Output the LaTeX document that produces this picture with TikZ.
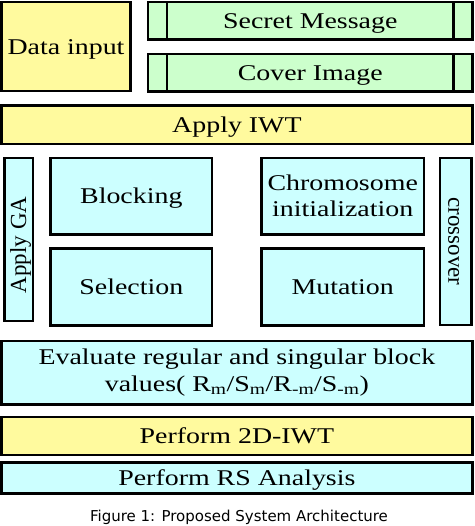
\documentclass[tikz,border=0pt]{standalone}
\usepackage{fontspec}
\setmainfont{Liberation Serif}[FakeStretch=1.24]
\newfontfamily\rotfont{Liberation Serif}
\newfontfamily\capfont{DejaVu Sans}
\definecolor{boxyellow}{HTML}{FFFA9E}
\definecolor{boxgreen}{HTML}{CCFFCC}
\definecolor{boxcyan}{HTML}{CCFFFF}
\begin{document}
\begin{tikzpicture}[x=1pt,y=-1pt,
  box/.style={draw=black, line width=2.5pt, inner sep=0pt, outer sep=0pt,
    font=\fontsize{22.5}{26}\selectfont},
  one/.style={text height=14.8pt, text depth=0pt},
  multi/.style={align=center},
  rot/.style={font=\rotfont\fontsize{23}{26}\selectfont},
  sepline/.style={line width=2.5pt}]
\useasboundingbox (0,0) rectangle (474,526);
% top block
\node[box,one,fill=boxyellow,minimum width=129pt,minimum height=89pt] (datain) at (66,46.7) {Data input};
\node[box,one,fill=boxgreen,minimum width=324.5pt,minimum height=37.5pt] (secret) at (310.25,20.75) {Secret Message};
\node[box,one,fill=boxgreen,minimum width=324.5pt,minimum height=37.3pt] (cover) at (310.25,72.7) {Cover Image};
\draw[sepline] ([xshift=19pt]secret.north west) -- ([xshift=19pt]secret.south west);
\draw[sepline] ([xshift=-19pt]secret.north east) -- ([xshift=-19pt]secret.south east);
\draw[sepline] ([xshift=19pt]cover.north west) -- ([xshift=19pt]cover.south west);
\draw[sepline] ([xshift=-19pt]cover.north east) -- ([xshift=-19pt]cover.south east);
\node[box,one,fill=boxyellow,minimum width=471.2pt,minimum height=38.3pt] (iwt) at (236.9,124.9) {Apply IWT};
% GA block
\node[box,one,rot,fill=boxcyan,rotate=90,minimum width=163pt,minimum height=28.7pt] (applyga) at (18.7,239.5) {\hspace*{-11pt}Apply GA};
\node[box,one,fill=boxcyan,minimum width=161.4pt,minimum height=76.7pt] (blocking) at (131.3,196.3) {Blocking};
\node[box,one,fill=boxcyan,minimum width=161.4pt,minimum height=76.6pt] (selection) at (131.3,287) {Selection};
\node[box,multi,fill=boxcyan,minimum width=162.7pt,minimum height=76.7pt] (chromo) at (342.7,196.3) {Chromosome\\initialization};
\node[box,one,fill=boxcyan,minimum width=162.7pt,minimum height=76.6pt] (mutation) at (342.7,287) {Mutation};
\node[box,one,rot,fill=boxcyan,rotate=-90,minimum width=167pt,minimum height=31.3pt] (crossover) at (455.7,241.5) {crossover};
% bottom block
\node[box,multi,fill=boxcyan,minimum width=471.2pt,minimum height=63.5pt,font=\fontsize{22.5}{27}\selectfont] (evaluate) at (236.9,372.5) {Evaluate regular and singular block\\values( R\textsubscript{m}/S\textsubscript{m}/R\textsubscript{-m}/S\textsubscript{-m})};
\node[box,one,fill=boxyellow,minimum width=471.2pt,minimum height=38pt] (iwt2d) at (236.9,436) {Perform 2D-IWT};
\node[box,one,fill=boxcyan,minimum width=471.2pt,minimum height=31pt] (rs) at (236.9,478.2) {Perform RS Analysis};
\node[font=\capfont\fontsize{15}{17}\selectfont, anchor=base, inner sep=0pt] (caption) at (239,521) {Figure 1: Proposed System Architecture};
\end{tikzpicture}
\end{document}
